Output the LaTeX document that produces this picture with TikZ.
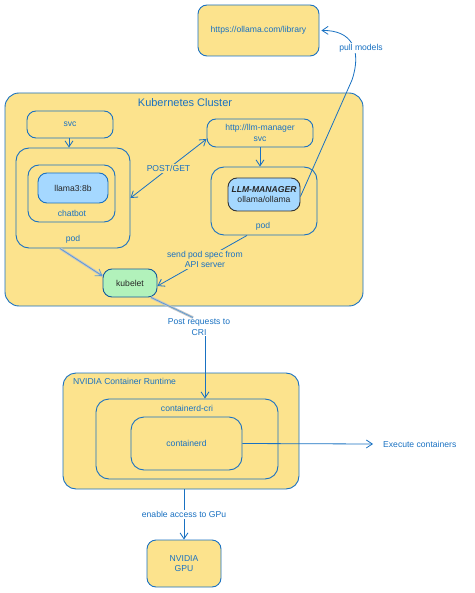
\documentclass[tikz,border=0pt]{standalone}
\usepackage{fontspec}
\setmainfont{Liberation Sans}
\usepackage{tikz}
\usetikzlibrary{arrows.meta}
\usepackage{xcolor}

\definecolor{exblue}{HTML}{1971C2}
\definecolor{exyellow}{HTML}{FCE38D}
\definecolor{exlightblue}{HTML}{A5D8FF}
\definecolor{exgreen}{HTML}{B2F2BB}

\begin{document}
\begin{tikzpicture}[x=1pt, y=-1pt,
    box/.style={draw=exblue, line width=0.9pt, rounded corners=9pt, fill=exyellow,
                text=exblue, inner sep=0pt, align=center, font=\fontsize{8.6}{10.5}\selectfont},
    lbl/.style={text=exblue, inner sep=1pt, align=center, font=\fontsize{8.6}{10.5}\selectfont},
    conn/.style={draw=exblue, line width=0.8pt, -{Straight Barb[length=6pt,width=8pt]}},
    link/.style={draw=exblue, line width=0.8pt},
    kline/.style={draw=gray!45, line width=2.6pt}]
			\useasboundingbox (0,0) rectangle (474,593);

			% ollama library
			\node[box, minimum width=121pt, minimum height=51pt] (lib) at (258.5,30.5) {https://ollama.com/library};

			% kubernetes cluster
			\node[box, rounded corners=14pt, minimum width=358pt, minimum height=213pt] (k8s) at (184,199.5) {};
			\node[lbl, font=\fontsize{11}{13}\selectfont] (k8stitle) at (185,103) {Kubernetes Cluster};

			\node[box, minimum width=86pt, minimum height=27pt] (svcA) at (70,124.5) {svc};
			\node[box, rounded corners=13pt, minimum width=114pt, minimum height=100pt] (podA) at (73,198) {};
			\node[box, rounded corners=11pt, minimum width=87pt, minimum height=57pt] (botA) at (71.5,193.5) {};
			\node[box, fill=exlightblue, text=black!85, minimum width=70pt, minimum height=30pt] (llama) at (73,188) {llama3:8b};
			\node[lbl] (botlbl) at (72,213) {chatbot};
			\node[lbl] (podAlbl) at (73,239) {pod};

			\node[box, minimum width=106pt, minimum height=28pt] (svcB) at (260,133) {http://llm-manager\\svc};
			\node[box, rounded corners=13pt, minimum width=106pt, minimum height=68pt] (podB) at (264,201) {};
			\node[box, draw=black!80, fill=exlightblue, text=black!85, minimum width=72pt, minimum height=33pt] (llm) at (264,194.5) {\textbf{\textit{LLM-MANAGER}}\\ollama/ollama};
			\node[lbl] (podBlbl) at (263,226) {pod};

			\node[box, draw=exblue!80!black, fill=exgreen, text=black!85, minimum width=54pt, minimum height=28pt] (kubelet) at (130,283) {kubelet};

			\draw[conn] (svcA.south -| 69,0) -- (podA.north -| 69,0);
			\draw[conn] (svcB.south) -- (svcB.south |- podB.north);
			\draw[conn, {Straight Barb[length=6pt,width=8pt]}-{Straight Barb[length=6pt,width=8pt]}] (podA.east) --
			    node[lbl, fill=exyellow, pos=0.5] (postget) {POST/GET} ([yshift=-6pt]svcB.west);
			\draw[conn] ([xshift=-17pt]podB.south) --
			    node[lbl, fill=exyellow, pos=0.47] (sendlbl) {send pod spec from\\API server} ([yshift=-3pt]kubelet.east);
			\draw[kline] ([xshift=-13pt]podA.south) -- ([yshift=7pt]kubelet.west);
			\draw[conn, exblue!70] ([xshift=-13pt]podA.south) -- ([yshift=7pt]kubelet.west);

			% pull models
			\draw[conn] ([yshift=-2pt]llm.east) -- (352,80) .. controls (362,50) and (352,30) .. ([xshift=2pt]lib.east);
			\node[lbl, fill=white] (pull) at (361,48) {pull models};

			% container runtime
			\node[box, rounded corners=13pt, minimum width=236pt, minimum height=116pt] (runtime) at (181,431) {};
			\node[lbl, anchor=west] (rtlbl) at (72,381) {NVIDIA Container Runtime};
			\node[box, rounded corners=13pt, minimum width=182pt, minimum height=80pt] (cri) at (187,439) {};
			\node[lbl] (crilbl) at (187,408) {containerd-cri};
			\node[box, rounded corners=13pt, minimum width=111pt, minimum height=53pt] (ctrd) at (186.5,443.5) {containerd};

			\node[lbl, fill=white] (postlbl) at (199,327) {Post requests to\\CRI};
			\draw[kline] ([xshift=21pt]kubelet.south) -- ([xshift=-6pt]postlbl.north);
			\draw[link, exblue!70] ([xshift=21pt]kubelet.south) -- ([xshift=-6pt]postlbl.north);
			\draw[conn] ([xshift=6pt]postlbl.south) -- ([xshift=18pt]cri.north);

			\node[lbl, anchor=west] (execlbl) at (382,444) {Execute containers};
			\draw[conn] (ctrd.east) -- ([xshift=-9pt]execlbl.west);

			% gpu
			\node[box, minimum width=74pt, minimum height=47pt] (gpu) at (184,563.5) {NVIDIA\\GPU};
			\draw[conn] (gpu.north |- runtime.south) --
			    node[lbl, fill=white, pos=0.5] (gpulbl) {enable access to GPu} (gpu.north);

		\end{tikzpicture}
\end{document}
